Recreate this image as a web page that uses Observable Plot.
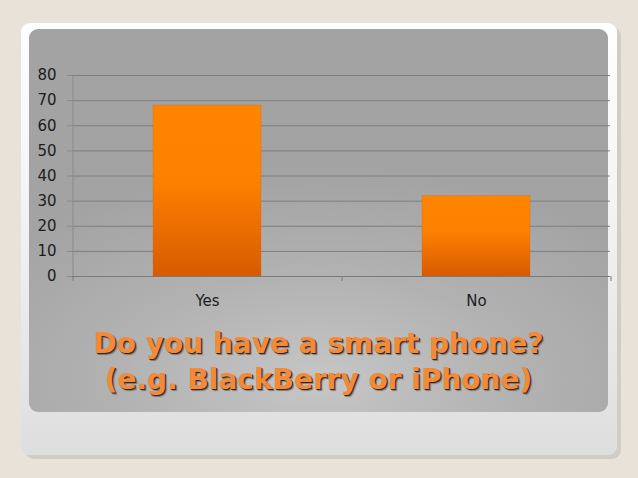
<!DOCTYPE html>
<html>
<head>
<meta charset="utf-8">
<script src="https://cdn.jsdelivr.net/npm/d3@7"></script>
<script src="https://cdn.jsdelivr.net/npm/@observablehq/plot@0.6"></script>
<style>
  html, body { margin: 0; padding: 0; }
  body { width: 638px; height: 478px; background: #e8e2d8; position: relative; overflow: hidden; font-family: "DejaVu Sans", Verdana, sans-serif; }
  #card { position: absolute; left: 21px; top: 23px; width: 596px; height: 432px; border-radius: 9px;
          background: linear-gradient(to bottom, #ffffff 0%, #f4f4f4 40%, #dedede 100%);
          box-shadow: 4px 4px 0 #d2cdc4; }
  #panel { position: absolute; left: 29px; top: 29px; width: 579px; height: 383px; border-radius: 9px;
           background: radial-gradient(ellipse 70% 55% at 50% 92%, #c6c6c6 0%, #b2b2b2 50%, #a3a3a3 100%); }
  #chart { position: absolute; left: 0; top: 0; }
  #title { position: absolute; left: 29px; width: 579px; top: 326px; text-align: center;
           font-family: "DejaVu Sans", Verdana, sans-serif; font-weight: bold; font-size: 28px; line-height: 36px;
           color: #f28a3a; text-shadow: 1px 1px 0 #3a2614, 2px 2px 1px rgba(0,0,0,0.35); white-space: nowrap; }
</style>
</head>
<body>
<div id="card"></div>
<div id="panel"></div>
<div id="chart"></div>
<div id="title">Do you have a smart phone?<br>(e.g. BlackBerry or iPhone)</div>
<script>
const categories = ["Yes", "No"];
const values = [68, 32];
const yTicks = [0, 10, 20, 30, 40, 50, 60, 70, 80];

const data = categories.map((c, i) => ({category: c, value: values[i]}));

const W = 638, H = 320;
const mL = 72, mR = 28, mT = 75, mB = 44;
const step = (W - mL - mR) / categories.length;

const plot = Plot.plot({
  width: W,
  height: H,
  marginLeft: mL,
  marginRight: mR,
  marginTop: mT,
  marginBottom: mB,
  style: { background: "transparent", fontFamily: "'DejaVu Sans', Verdana, sans-serif", overflow: "visible" },
  x: { domain: categories, paddingInner: 0.6, paddingOuter: 0.3, label: null },
  y: { domain: [0, 80], label: null },
  marks: [
    Plot.gridY(yTicks, { stroke: "#7e7e7e", strokeOpacity: 1, strokeWidth: 1 }),
    Plot.axisY(yTicks, { tickSize: 5, tickPadding: 11, fontSize: 15, color: "#1c1c1c", stroke: "#8a8a8a", label: null }),
    Plot.ruleX(categories.slice(0, 1), { x: d => d, dx: -step / 2, y1: 0, y2: 80, stroke: "#8a8a8a" }),
    Plot.barY(data, { x: "category", y: "value", fill: "url(#barGrad)", stroke: "#d06010", strokeOpacity: 0.25 }),
    Plot.ruleY([0], { stroke: "#7a7a7a" }),
    Plot.ruleX(categories, { x: d => d, dx: step / 2, y1: 0, y2: -2, stroke: "#7a7a7a" }),
    Plot.ruleX(categories.slice(0, 1), { x: d => d, dx: -step / 2, y1: 0, y2: -2, stroke: "#7a7a7a" }),
    Plot.axisX({ tickSize: 0, tickPadding: 19, fontSize: 15, color: "#1c1c1c", label: null })
  ]
});

const svg = d3.select(plot);
const defs = svg.insert("defs", ":first-child");
const g = defs.append("linearGradient").attr("id", "barGrad").attr("x1", 0).attr("y1", 0).attr("x2", 0).attr("y2", 1);
g.append("stop").attr("offset", "0%").attr("stop-color", "#ff8400");
g.append("stop").attr("offset", "45%").attr("stop-color", "#fd8000");
g.append("stop").attr("offset", "100%").attr("stop-color", "#d75b00");

document.getElementById("chart").appendChild(plot);
</script>
</body>
</html>
